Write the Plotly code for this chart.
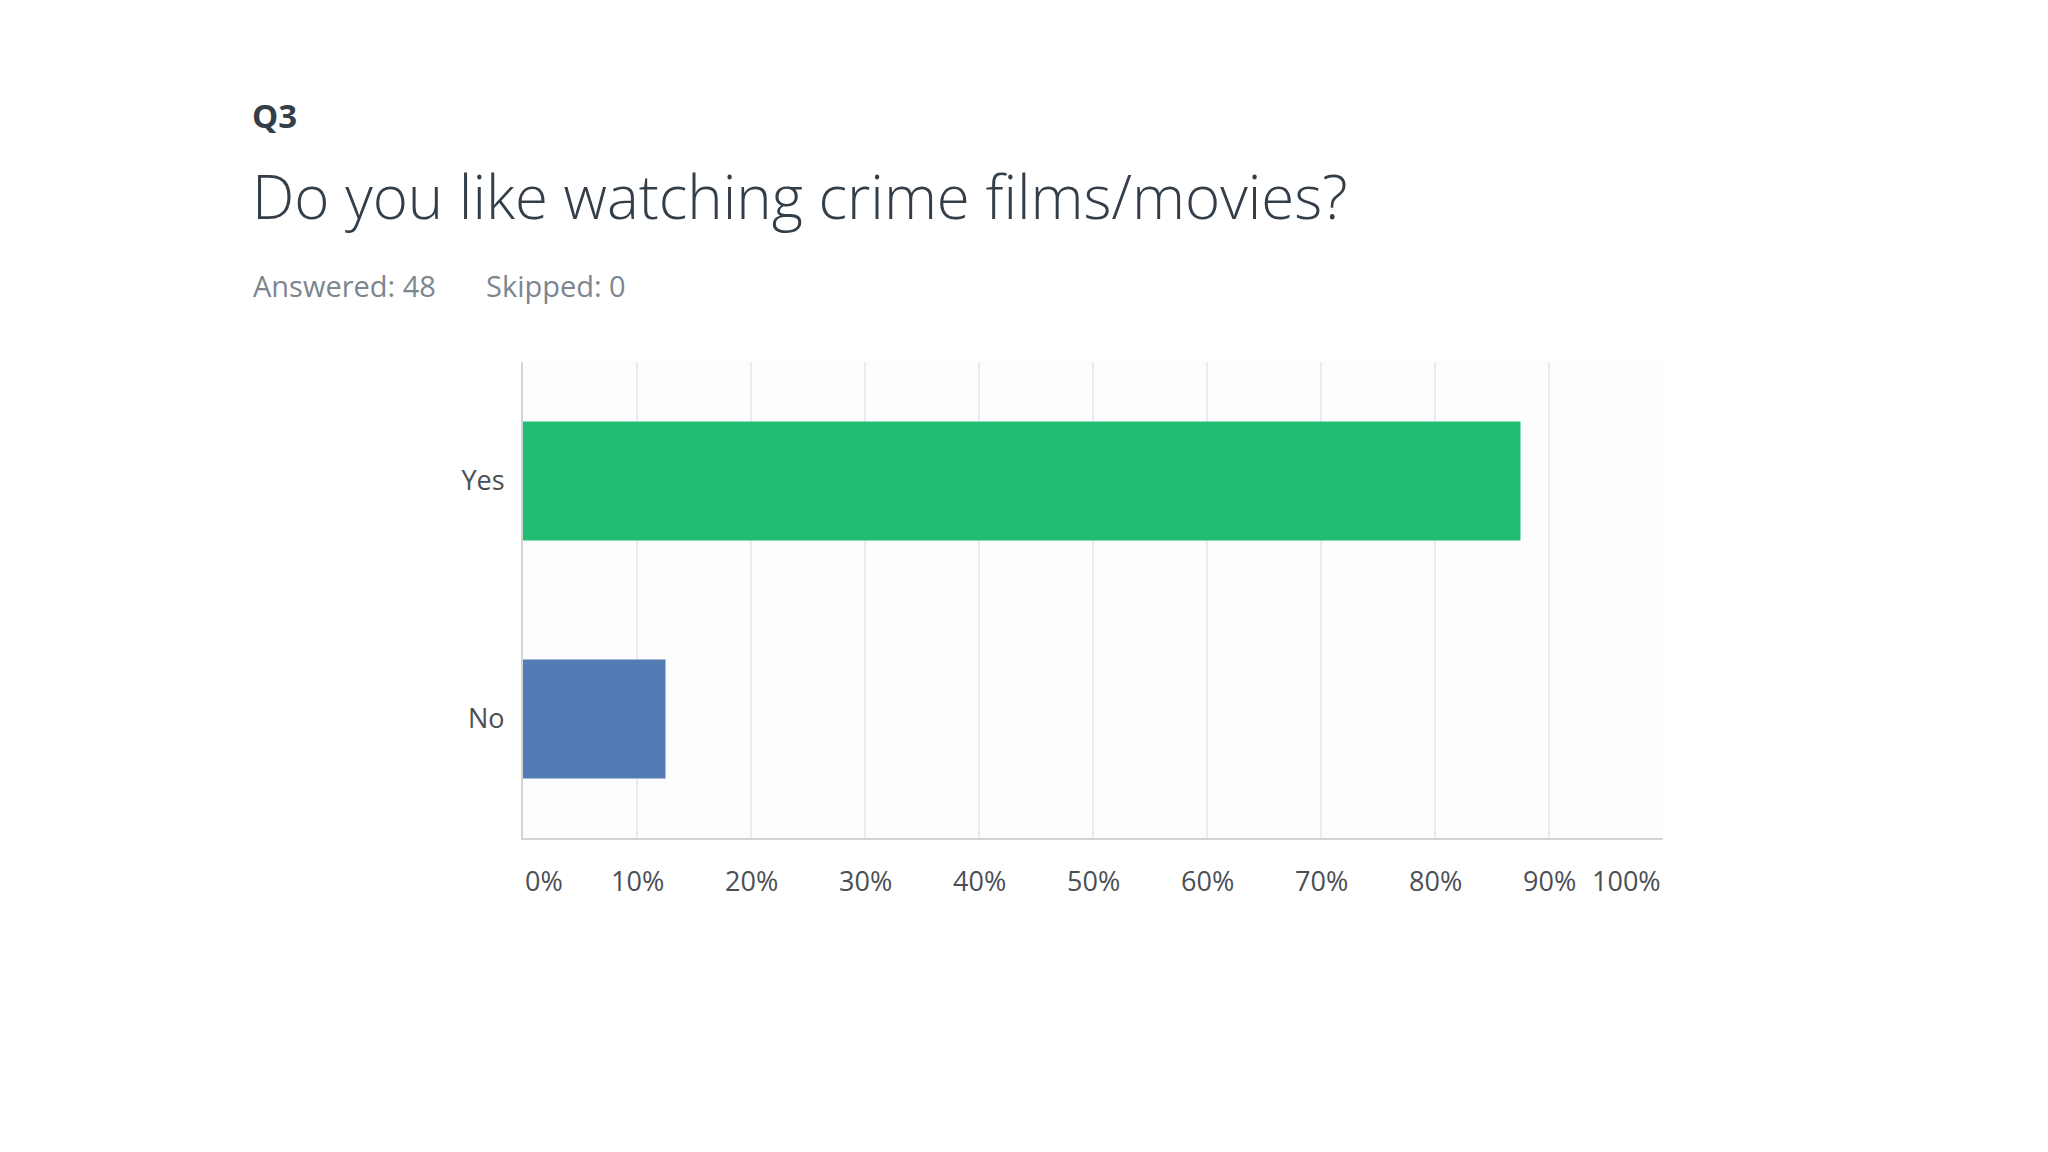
import plotly.graph_objects as go

categories = ["Yes", "No"]
percent_values = [87.5, 12.5]
bar_colors = ["#20bd72", "#537cb4"]
tick_values = [0, 10, 20, 30, 40, 50, 60, 70, 80, 90, 100]
tick_labels = ["0%", "10%", "20%", "30%", "40%", "50%", "60%", "70%", "80%", "90%", "100%"]
question_id = "Q3"
question_text = "Do you like watching crime films/movies?"
answered_text = "Answered: 48"
skipped_text = "Skipped: 0"

# page body has an 8px margin, so the figure is drawn 8px in from the top-left
OFF = 8
W, H = 2048 - OFF, 1152 - OFF
L, R, T, B = 523 - OFF, 1663 - OFF, 362 - OFF, 838 - OFF
pw, ph = R - L, B - T

def px(x):
    return (x - OFF - L) / pw

def py(y):
    return (B - (y - OFF)) / ph

fig = go.Figure()
fig.add_trace(go.Bar(
    y=categories, x=percent_values, orientation="h",
    marker=dict(color=bar_colors, line=dict(width=0)),
    hoverinfo="x+y",
))

FONT = "Open Sans"
annotations = [
    dict(text=question_id, x=px(250), y=py(115), xanchor="left", yanchor="middle",
         font=dict(family=FONT, size=33, color="#333e48", weight=700)),
    dict(text=question_text, x=px(250), y=py(196), xanchor="left", yanchor="middle",
         font=dict(family=FONT, size=60, color="#333e48", weight=300)),
    dict(text=answered_text, x=px(251), y=py(286), xanchor="left", yanchor="middle",
         font=dict(family=FONT, size=29, color="#7d868e", weight=400)),
    dict(text=skipped_text, x=px(484), y=py(286), xanchor="left", yanchor="middle",
         font=dict(family=FONT, size=29, color="#7d868e", weight=400)),
]
for v, lab in zip(tick_values, tick_labels):
    anchor = "left" if v == tick_values[0] else ("right" if v == tick_values[-1] else "center")
    annotations.append(dict(text=lab, x=v, xref="x", y=py(880), yref="paper",
                            xanchor=anchor, yanchor="middle", showarrow=False,
                            font=dict(family=FONT, size=27, color="#4b4f54")))
for a in annotations:
    a.setdefault("xref", "paper")
    a.setdefault("yref", "paper")
    a["showarrow"] = False

fig.update_layout(
    width=W, height=H,
    margin=dict(l=L, r=W - R, t=T, b=H - B, pad=0),
    paper_bgcolor="white",
    plot_bgcolor="#fdfdfe",
    bargap=0.5,
    showlegend=False,
    font=dict(family=FONT, color="#4b4f54"),
    annotations=annotations,
    xaxis=dict(range=[0, 100], tickvals=tick_values, showticklabels=False,
               showgrid=True, gridcolor="#ebebef", gridwidth=2,
               showline=True, linecolor="#d3d3d8", linewidth=2, mirror=False,
               zeroline=False, fixedrange=True),
    yaxis=dict(categoryorder="array", categoryarray=categories[::-1],
               showgrid=False, showline=True, linecolor="#d3d3d8", linewidth=2,
               ticks="", ticklabelstandoff=11,
               tickfont=dict(family=FONT, size=27, color="#4b4f54"),
               zeroline=False, fixedrange=True),
)

fig.write_html("out.html")
